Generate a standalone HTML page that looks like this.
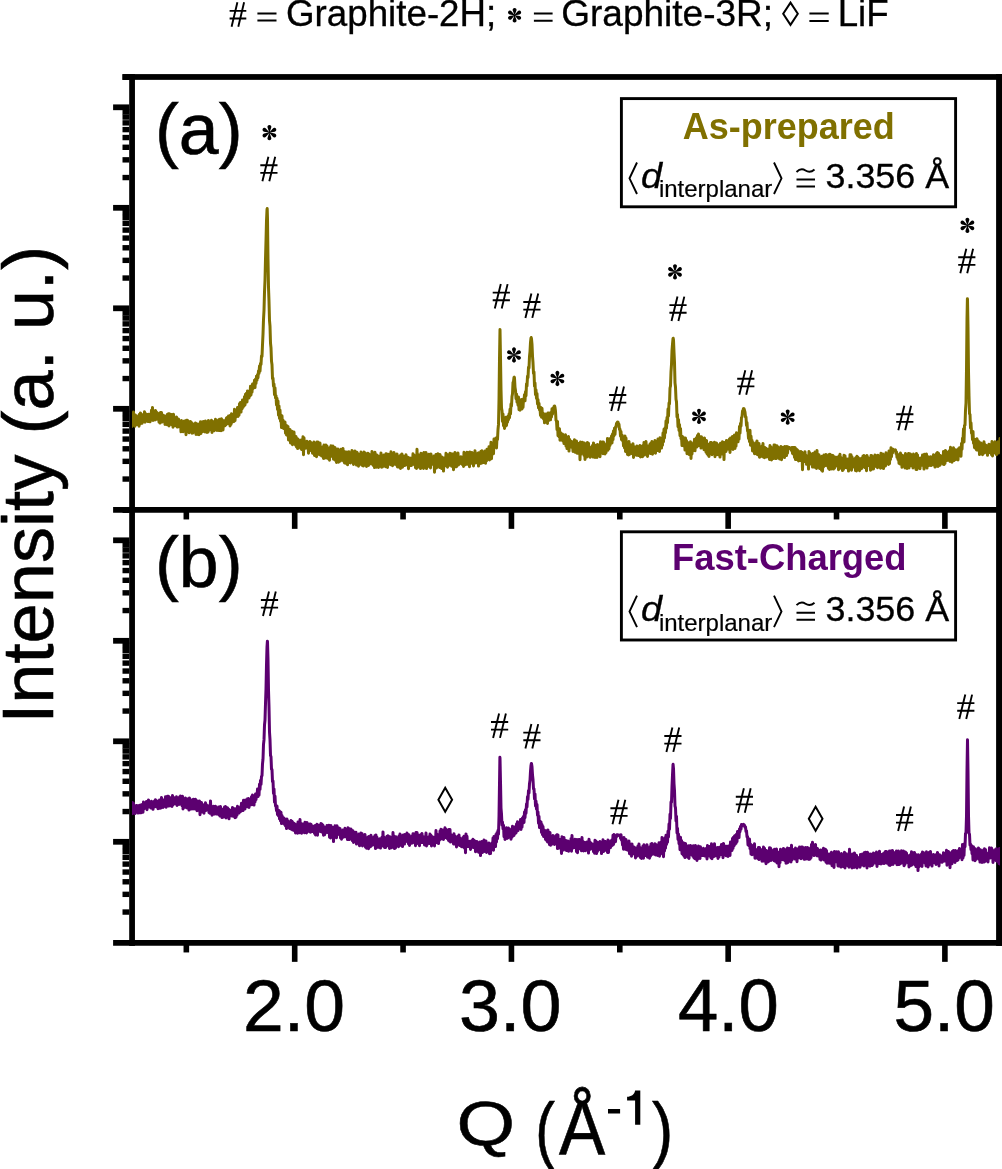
<!DOCTYPE html>
<html><head><meta charset="utf-8"><style>
html,body{margin:0;padding:0;background:#fff;overflow:hidden}
svg{display:block;will-change:transform}
</style></head><body>
<svg width="1002" height="1169" viewBox="0 0 1002 1169">
<rect width="1002" height="1169" fill="#fff"/>
<defs><clipPath id="cp"><rect x="132" y="79" width="868" height="862"/></clipPath></defs>
<rect x="122.50" y="74.10" width="879.50" height="5.75" fill="#000"/>
<rect x="129.20" y="74.10" width="5.75" height="871.80" fill="#000"/>
<rect x="113.10" y="507.00" width="888.90" height="5.75" fill="#000"/>
<rect x="113.10" y="940.00" width="888.90" height="5.75" fill="#000"/>
<rect x="996.10" y="74.10" width="6.00" height="871.80" fill="#000"/>
<rect x="113.10" y="104.42" width="16.20" height="5.75" fill="#000"/>
<rect x="113.10" y="204.93" width="16.20" height="5.75" fill="#000"/>
<rect x="113.10" y="305.43" width="16.20" height="5.75" fill="#000"/>
<rect x="113.10" y="405.93" width="16.20" height="5.75" fill="#000"/>
<rect x="122.50" y="157.15" width="6.80" height="5.40" fill="#000"/>
<rect x="122.50" y="144.59" width="6.80" height="5.40" fill="#000"/>
<rect x="122.50" y="134.85" width="6.80" height="5.40" fill="#000"/>
<rect x="122.50" y="126.90" width="6.80" height="5.40" fill="#000"/>
<rect x="122.50" y="120.17" width="6.80" height="5.40" fill="#000"/>
<rect x="122.50" y="114.34" width="6.80" height="5.40" fill="#000"/>
<rect x="122.50" y="109.20" width="6.80" height="5.40" fill="#000"/>
<rect x="122.50" y="174.85" width="6.80" height="5.40" fill="#000"/>
<rect x="122.50" y="257.65" width="6.80" height="5.40" fill="#000"/>
<rect x="122.50" y="245.09" width="6.80" height="5.40" fill="#000"/>
<rect x="122.50" y="235.35" width="6.80" height="5.40" fill="#000"/>
<rect x="122.50" y="227.40" width="6.80" height="5.40" fill="#000"/>
<rect x="122.50" y="220.67" width="6.80" height="5.40" fill="#000"/>
<rect x="122.50" y="214.84" width="6.80" height="5.40" fill="#000"/>
<rect x="122.50" y="209.70" width="6.80" height="5.40" fill="#000"/>
<rect x="122.50" y="275.35" width="6.80" height="5.40" fill="#000"/>
<rect x="122.50" y="358.15" width="6.80" height="5.40" fill="#000"/>
<rect x="122.50" y="345.59" width="6.80" height="5.40" fill="#000"/>
<rect x="122.50" y="335.85" width="6.80" height="5.40" fill="#000"/>
<rect x="122.50" y="327.90" width="6.80" height="5.40" fill="#000"/>
<rect x="122.50" y="321.17" width="6.80" height="5.40" fill="#000"/>
<rect x="122.50" y="315.34" width="6.80" height="5.40" fill="#000"/>
<rect x="122.50" y="310.20" width="6.80" height="5.40" fill="#000"/>
<rect x="122.50" y="375.85" width="6.80" height="5.40" fill="#000"/>
<rect x="122.50" y="458.65" width="6.80" height="5.40" fill="#000"/>
<rect x="122.50" y="446.09" width="6.80" height="5.40" fill="#000"/>
<rect x="122.50" y="436.35" width="6.80" height="5.40" fill="#000"/>
<rect x="122.50" y="428.40" width="6.80" height="5.40" fill="#000"/>
<rect x="122.50" y="421.67" width="6.80" height="5.40" fill="#000"/>
<rect x="122.50" y="415.84" width="6.80" height="5.40" fill="#000"/>
<rect x="122.50" y="410.70" width="6.80" height="5.40" fill="#000"/>
<rect x="122.50" y="476.35" width="6.80" height="5.40" fill="#000"/>
<rect x="122.50" y="74.20" width="6.80" height="5.75" fill="#000"/>
<rect x="113.10" y="537.42" width="16.20" height="5.75" fill="#000"/>
<rect x="113.10" y="637.92" width="16.20" height="5.75" fill="#000"/>
<rect x="113.10" y="738.42" width="16.20" height="5.75" fill="#000"/>
<rect x="113.10" y="838.92" width="16.20" height="5.75" fill="#000"/>
<rect x="122.50" y="590.15" width="6.80" height="5.40" fill="#000"/>
<rect x="122.50" y="577.59" width="6.80" height="5.40" fill="#000"/>
<rect x="122.50" y="567.85" width="6.80" height="5.40" fill="#000"/>
<rect x="122.50" y="559.90" width="6.80" height="5.40" fill="#000"/>
<rect x="122.50" y="553.17" width="6.80" height="5.40" fill="#000"/>
<rect x="122.50" y="547.34" width="6.80" height="5.40" fill="#000"/>
<rect x="122.50" y="542.20" width="6.80" height="5.40" fill="#000"/>
<rect x="122.50" y="607.85" width="6.80" height="5.40" fill="#000"/>
<rect x="122.50" y="690.65" width="6.80" height="5.40" fill="#000"/>
<rect x="122.50" y="678.09" width="6.80" height="5.40" fill="#000"/>
<rect x="122.50" y="668.35" width="6.80" height="5.40" fill="#000"/>
<rect x="122.50" y="660.40" width="6.80" height="5.40" fill="#000"/>
<rect x="122.50" y="653.67" width="6.80" height="5.40" fill="#000"/>
<rect x="122.50" y="647.84" width="6.80" height="5.40" fill="#000"/>
<rect x="122.50" y="642.70" width="6.80" height="5.40" fill="#000"/>
<rect x="122.50" y="708.35" width="6.80" height="5.40" fill="#000"/>
<rect x="122.50" y="791.15" width="6.80" height="5.40" fill="#000"/>
<rect x="122.50" y="778.59" width="6.80" height="5.40" fill="#000"/>
<rect x="122.50" y="768.85" width="6.80" height="5.40" fill="#000"/>
<rect x="122.50" y="760.90" width="6.80" height="5.40" fill="#000"/>
<rect x="122.50" y="754.17" width="6.80" height="5.40" fill="#000"/>
<rect x="122.50" y="748.34" width="6.80" height="5.40" fill="#000"/>
<rect x="122.50" y="743.20" width="6.80" height="5.40" fill="#000"/>
<rect x="122.50" y="808.85" width="6.80" height="5.40" fill="#000"/>
<rect x="122.50" y="891.65" width="6.80" height="5.40" fill="#000"/>
<rect x="122.50" y="879.09" width="6.80" height="5.40" fill="#000"/>
<rect x="122.50" y="869.35" width="6.80" height="5.40" fill="#000"/>
<rect x="122.50" y="861.40" width="6.80" height="5.40" fill="#000"/>
<rect x="122.50" y="854.67" width="6.80" height="5.40" fill="#000"/>
<rect x="122.50" y="848.84" width="6.80" height="5.40" fill="#000"/>
<rect x="122.50" y="843.70" width="6.80" height="5.40" fill="#000"/>
<rect x="122.50" y="909.35" width="6.80" height="5.40" fill="#000"/>
<rect x="122.50" y="507.20" width="6.80" height="5.75" fill="#000"/>
<rect x="291.90" y="511.85" width="5.60" height="17.00" fill="#000"/>
<rect x="508.63" y="511.85" width="5.60" height="17.00" fill="#000"/>
<rect x="725.36" y="511.85" width="5.60" height="17.00" fill="#000"/>
<rect x="942.09" y="511.85" width="5.60" height="17.00" fill="#000"/>
<rect x="183.53" y="511.85" width="5.60" height="7.60" fill="#000"/>
<rect x="400.26" y="511.85" width="5.60" height="7.60" fill="#000"/>
<rect x="617.00" y="511.85" width="5.60" height="7.60" fill="#000"/>
<rect x="833.72" y="511.85" width="5.60" height="7.60" fill="#000"/>
<rect x="291.90" y="944.85" width="5.60" height="17.00" fill="#000"/>
<rect x="508.63" y="944.85" width="5.60" height="17.00" fill="#000"/>
<rect x="725.36" y="944.85" width="5.60" height="17.00" fill="#000"/>
<rect x="942.09" y="944.85" width="5.60" height="17.00" fill="#000"/>
<rect x="183.53" y="944.85" width="5.60" height="7.60" fill="#000"/>
<rect x="400.26" y="944.85" width="5.60" height="7.60" fill="#000"/>
<rect x="617.00" y="944.85" width="5.60" height="7.60" fill="#000"/>
<rect x="833.72" y="944.85" width="5.60" height="7.60" fill="#000"/>
<g clip-path="url(#cp)" fill="none" stroke-width="3" stroke-linejoin="round" stroke-linecap="round">
<path stroke="#807000" d="M131.0 425.6 131.5 415.0 132.0 426.4 132.5 418.5 133.0 423.9 133.5 412.1 134.0 422.3 134.5 415.2 135.0 426.3 135.5 415.1 136.0 423.5 136.5 417.7 137.0 424.4 137.5 416.6 138.0 424.1 138.5 415.8 139.0 426.3 139.5 414.2 140.0 424.1 140.5 412.9 141.0 421.6 141.5 416.8 142.0 423.3 142.5 417.1 143.0 419.9 143.5 414.3 144.0 421.8 144.5 411.8 145.0 422.2 145.5 413.6 146.0 421.2 146.5 414.6 147.0 418.4 147.5 414.6 148.0 421.6 148.5 414.3 149.0 419.7 149.5 415.1 150.0 421.8 150.5 414.1 151.0 418.8 151.5 410.3 152.0 419.9 152.5 407.6 153.0 420.5 153.5 410.9 154.0 417.8 154.5 412.0 155.0 419.9 155.5 410.4 156.0 419.3 156.5 411.9 157.0 417.9 157.5 413.1 158.0 419.4 158.5 414.5 159.0 422.1 159.5 413.5 160.0 423.1 160.5 412.6 161.0 421.4 161.5 412.6 162.0 422.1 162.5 415.4 163.0 421.1 163.5 415.2 164.0 421.3 164.5 416.2 165.0 424.5 165.5 416.0 166.0 423.3 166.5 415.8 167.0 424.7 167.5 414.3 168.0 421.2 168.5 413.7 169.0 425.9 169.5 413.8 170.0 424.3 170.5 418.1 171.0 422.7 171.5 414.4 172.0 425.0 172.5 418.7 173.0 427.2 173.5 414.3 174.0 425.9 174.5 418.5 175.0 425.5 175.5 419.6 176.0 424.1 176.5 416.9 177.0 427.0 177.5 419.3 178.0 427.0 178.5 418.9 179.0 426.1 179.5 421.5 180.0 426.5 180.5 423.1 181.0 431.8 181.5 420.5 182.0 429.2 182.5 421.5 183.0 431.8 183.5 422.7 184.0 430.6 184.5 421.1 185.0 429.5 185.5 422.2 186.0 434.7 186.5 420.3 187.0 428.8 187.5 420.3 188.0 428.2 188.5 421.5 189.0 432.8 189.5 425.0 190.0 430.8 190.5 421.4 191.0 428.8 191.5 422.6 192.0 433.2 192.5 423.4 193.0 432.9 193.5 425.0 194.0 430.1 194.5 424.4 195.0 430.1 195.5 422.9 196.0 434.4 196.5 423.4 197.0 431.2 197.5 425.1 198.0 434.5 198.5 424.2 199.0 434.7 199.5 423.8 200.0 432.2 200.5 421.7 201.0 433.4 201.5 423.4 202.0 431.7 202.5 421.7 203.0 431.5 203.5 421.4 204.0 429.5 204.5 424.0 205.0 431.9 205.5 421.1 206.0 430.3 206.5 421.7 207.0 432.5 207.5 422.1 208.0 432.1 208.5 420.5 209.0 430.3 209.5 423.5 210.0 429.4 210.5 425.2 211.0 429.3 211.5 420.3 212.0 432.5 212.5 424.5 213.0 431.0 213.5 422.3 214.0 430.8 214.5 421.2 215.0 429.0 215.5 419.3 216.0 429.7 216.5 420.9 217.0 430.4 217.5 423.1 218.0 427.0 218.5 419.9 219.0 430.6 219.5 419.2 220.0 430.1 220.5 422.7 221.0 430.7 221.5 418.7 222.0 430.2 222.5 419.9 223.0 430.0 223.5 422.0 224.0 424.9 224.5 421.8 225.0 425.7 225.5 420.1 226.0 424.8 226.5 417.9 227.0 423.5 227.5 417.2 228.0 423.5 228.5 416.1 229.0 422.0 229.5 417.2 230.0 426.0 230.5 415.2 231.0 424.4 231.5 413.7 232.0 422.4 232.5 415.2 233.0 421.3 233.5 415.0 234.0 421.4 234.5 409.3 235.0 420.6 235.5 412.9 236.0 416.9 236.5 410.4 237.0 414.4 237.5 407.6 238.0 416.4 238.5 407.7 239.0 415.2 239.5 403.8 240.0 410.0 240.5 402.4 241.0 412.1 241.5 403.6 242.0 408.9 242.5 399.9 243.0 407.3 243.5 400.8 244.0 405.9 244.5 396.7 245.0 405.0 245.5 394.3 246.0 401.1 246.5 393.2 247.0 402.0 247.5 390.9 248.0 397.3 248.5 392.8 249.0 397.9 249.5 391.0 250.0 395.9 250.5 386.2 251.0 394.9 251.5 387.6 252.0 392.1 252.5 384.1 253.0 388.6 253.5 383.4 254.0 386.8 254.5 380.2 255.0 387.6 255.5 379.2 256.0 383.3 256.5 376.2 257.0 380.1 257.5 374.8 258.0 377.7 258.5 370.9 259.0 373.3 259.5 366.1 260.0 371.2 260.5 363.6 261.0 364.3 261.5 355.9 262.0 356.4 262.5 344.7 263.0 334.3 263.5 319.5 264.0 310.5 264.5 292.1 265.0 280.2 265.5 259.0 266.0 240.8 266.5 220.7 267.0 209.7 267.2 208.5 267.5 219.0 268.0 259.0 268.5 287.4 269.0 301.3 269.5 320.5 270.0 326.1 270.5 343.0 271.0 347.8 271.5 361.1 272.0 364.7 272.5 378.8 273.0 378.2 273.5 386.2 274.0 384.0 274.5 394.7 275.0 387.8 275.5 397.9 276.0 395.6 276.5 404.9 277.0 398.2 277.5 409.5 278.0 401.0 278.5 415.1 279.0 405.9 279.5 418.4 280.0 410.1 280.5 421.2 281.0 415.9 281.5 427.6 282.0 415.8 282.5 427.6 283.0 420.1 283.5 428.4 284.0 422.4 284.5 428.6 285.0 422.0 285.5 433.2 286.0 426.1 286.5 434.9 287.0 425.8 287.5 435.5 288.0 426.6 288.5 440.0 289.0 430.4 289.5 436.9 290.0 429.5 290.5 443.0 291.0 434.1 291.5 442.5 292.0 431.2 292.5 444.7 293.0 436.2 293.5 440.8 294.0 432.0 294.5 441.8 295.0 437.5 295.5 445.2 296.0 436.6 296.5 446.9 297.0 438.7 297.5 448.5 298.0 439.1 298.5 448.2 299.0 440.5 299.5 447.0 300.0 441.3 300.5 446.6 301.0 440.1 301.5 449.5 302.0 439.7 302.5 446.0 303.0 436.8 303.5 454.8 304.0 437.7 304.5 447.9 305.0 441.2 305.5 448.2 306.0 443.2 306.5 447.4 307.0 441.3 307.5 448.3 308.0 443.7 308.5 453.2 309.0 442.2 309.5 449.5 310.0 441.4 310.5 450.3 311.0 442.6 311.5 450.8 312.0 443.0 312.5 453.3 313.0 443.2 313.5 452.2 314.0 442.0 314.5 455.5 315.0 446.1 315.5 451.3 316.0 446.8 316.5 456.8 317.0 442.0 317.5 454.0 318.0 442.1 318.5 452.7 319.0 445.3 319.5 454.8 320.0 443.0 320.5 452.2 321.0 447.0 321.5 456.0 322.0 448.9 322.5 454.0 323.0 446.7 323.5 458.4 324.0 445.1 324.5 458.3 325.0 445.3 325.5 457.8 326.0 445.0 326.5 457.9 327.0 446.0 327.5 455.8 328.0 449.8 328.5 459.0 329.0 450.1 329.5 460.3 330.0 447.6 330.5 456.8 331.0 445.7 331.5 456.0 332.0 448.7 332.5 455.8 333.0 446.1 333.5 459.2 334.0 447.4 334.5 457.6 335.0 447.6 335.5 460.5 336.0 448.9 336.5 462.4 337.0 450.5 337.5 459.2 338.0 449.1 338.5 462.2 339.0 451.6 339.5 461.4 340.0 452.7 340.5 460.9 341.0 449.3 341.5 458.0 342.0 449.8 342.5 457.9 343.0 448.5 343.5 461.1 344.0 452.3 344.5 462.9 345.0 451.7 345.5 463.2 346.0 454.8 346.5 462.3 347.0 451.9 347.5 464.8 348.0 455.4 348.5 461.9 349.0 451.7 349.5 462.6 350.0 455.4 350.5 463.0 351.0 454.5 351.5 460.6 352.0 450.4 352.5 460.7 353.0 453.2 353.5 464.4 354.0 451.7 354.5 463.2 355.0 451.1 355.5 462.7 356.0 452.5 356.5 465.1 357.0 452.2 357.5 464.1 358.0 454.1 358.5 466.3 359.0 454.2 359.5 465.0 360.0 454.4 360.5 463.3 361.0 452.1 361.5 463.6 362.0 454.9 362.5 465.8 363.0 454.7 363.5 466.0 364.0 452.1 364.5 463.5 365.0 452.7 365.5 460.9 366.0 454.9 366.5 466.4 367.0 453.7 367.5 464.5 368.0 453.2 368.5 465.4 369.0 453.9 369.5 463.8 370.0 456.6 370.5 463.0 371.0 455.9 371.5 464.0 372.0 451.4 372.5 463.6 373.0 455.1 373.5 465.8 374.0 454.2 374.5 467.6 375.0 452.3 375.5 463.9 376.0 456.4 376.5 467.3 377.0 455.0 377.5 466.1 378.0 457.8 378.5 467.4 379.0 456.3 379.5 465.0 380.0 457.1 380.5 464.5 381.0 453.0 381.5 467.3 382.0 455.4 382.5 466.9 383.0 455.6 383.5 464.4 384.0 455.1 384.5 463.3 385.0 456.6 385.5 466.7 386.0 453.7 386.5 462.4 387.0 453.9 387.5 467.5 388.0 455.9 388.5 462.6 389.0 454.3 389.5 463.8 390.0 454.6 390.5 464.7 391.0 451.8 391.5 463.9 392.0 455.8 392.5 465.7 393.0 454.8 393.5 463.6 394.0 452.6 394.5 464.2 395.0 457.0 395.5 464.0 396.0 457.5 396.5 465.1 397.0 453.9 397.5 467.0 398.0 457.7 398.5 463.3 399.0 456.9 399.5 467.4 400.0 455.8 400.5 468.5 401.0 454.7 401.5 466.5 402.0 454.0 402.5 467.3 403.0 456.8 403.5 464.1 404.0 456.2 404.5 465.6 405.0 458.1 405.5 465.3 406.0 454.8 406.5 463.2 407.0 458.1 407.5 463.5 408.0 457.2 408.5 468.7 409.0 458.9 409.5 463.6 410.0 457.9 410.5 465.5 411.0 458.9 411.5 465.4 412.0 458.0 412.5 464.1 413.0 453.8 413.5 463.6 414.0 455.0 414.5 465.0 415.0 456.3 415.5 467.7 416.0 458.0 416.5 468.4 417.0 449.3 417.5 466.7 418.0 458.7 418.5 466.7 419.0 455.0 419.5 467.4 420.0 457.6 420.5 468.6 421.0 453.2 421.5 463.1 422.0 456.9 422.5 462.5 423.0 453.5 423.5 468.4 424.0 452.5 424.5 466.4 425.0 454.6 425.5 466.8 426.0 452.5 426.5 468.6 427.0 455.0 427.5 464.5 428.0 455.6 428.5 462.4 429.0 454.2 429.5 466.9 430.0 456.2 430.5 467.9 431.0 454.0 431.5 464.5 432.0 458.5 432.5 463.1 433.0 457.7 433.5 464.3 434.0 456.0 434.5 472.3 435.0 457.1 435.5 468.2 436.0 454.4 436.5 467.9 437.0 456.3 437.5 462.3 438.0 453.7 438.5 463.9 439.0 458.0 439.5 467.5 440.0 454.4 440.5 463.6 441.0 457.1 441.5 468.4 442.0 457.1 442.5 466.9 443.0 458.0 443.5 471.1 444.0 458.1 444.5 465.6 445.0 458.7 445.5 465.8 446.0 453.3 446.5 462.7 447.0 457.1 447.5 467.2 448.0 454.8 448.5 464.2 449.0 454.7 449.5 465.2 450.0 453.2 450.5 464.1 451.0 453.8 451.5 466.3 452.0 453.9 452.5 464.6 453.0 454.0 453.5 469.8 454.0 456.2 454.5 462.2 455.0 452.4 455.5 466.7 456.0 457.4 456.5 466.8 457.0 456.8 457.5 465.0 458.0 453.0 458.5 464.9 459.0 456.7 459.5 463.9 460.0 458.0 460.5 463.2 461.0 456.7 461.5 462.9 462.0 458.0 462.5 464.7 463.0 456.9 463.5 466.4 464.0 452.2 464.5 463.3 465.0 454.4 465.5 464.7 466.0 457.6 466.5 462.1 467.0 452.2 467.5 464.3 468.0 452.6 468.5 461.6 469.0 453.9 469.5 466.7 470.0 452.0 470.5 461.0 471.0 454.2 471.5 463.2 472.0 452.5 472.5 461.2 473.0 455.6 473.5 465.9 474.0 454.2 474.5 463.4 475.0 450.8 475.5 462.4 476.0 456.7 476.5 462.7 477.0 455.8 477.5 460.5 478.0 453.0 478.5 466.1 479.0 452.8 479.5 463.9 480.0 454.3 480.5 463.3 481.0 451.3 481.5 463.2 482.0 450.8 482.5 462.7 483.0 454.4 483.5 462.6 484.0 452.2 484.5 459.5 485.0 451.0 485.5 463.3 486.0 453.7 486.5 461.0 487.0 449.3 487.5 459.5 488.0 451.7 488.5 458.7 489.0 446.8 489.5 459.9 490.0 448.5 490.5 455.3 491.0 442.2 491.5 458.8 492.0 448.2 492.5 452.4 493.0 445.5 493.5 453.7 494.0 439.0 494.5 446.9 495.0 440.8 495.5 446.1 496.0 438.1 496.5 448.0 497.0 437.5 497.5 439.5 498.0 429.5 498.5 424.4 499.0 399.7 499.5 358.7 500.0 329.6 500.5 357.6 501.0 389.2 501.5 408.0 502.0 410.7 502.5 421.4 503.0 414.1 503.5 425.7 504.0 420.3 504.5 428.4 505.0 420.5 505.5 426.2 506.0 417.2 506.5 425.5 507.0 418.6 507.5 422.0 508.0 416.3 508.5 419.5 509.0 414.1 509.5 417.7 510.0 409.3 510.5 413.8 511.0 404.0 511.5 406.0 512.0 396.4 512.5 393.7 513.0 382.5 513.5 381.4 514.0 377.5 514.3 377.1 514.5 378.0 515.0 387.3 515.5 390.4 516.0 398.7 516.5 393.9 517.0 402.1 517.5 399.1 518.0 405.2 518.5 397.0 519.0 409.7 519.5 403.0 520.0 410.2 520.5 402.5 521.0 407.7 521.5 399.4 522.0 408.9 522.5 401.4 523.0 407.5 523.5 399.1 524.0 400.8 524.5 394.7 525.0 400.8 525.5 391.8 526.0 395.8 526.5 383.9 527.0 385.9 527.5 376.3 528.0 377.8 528.5 367.2 529.0 367.9 529.5 356.3 530.0 351.6 530.5 342.3 531.0 338.0 531.2 337.5 531.5 338.8 532.0 344.3 532.5 356.1 533.0 362.7 533.5 373.5 534.0 372.0 534.5 386.1 535.0 382.9 535.5 394.6 536.0 389.8 536.5 398.4 537.0 393.5 537.5 403.9 538.0 399.5 538.5 407.8 539.0 403.3 539.5 410.0 540.0 407.9 540.5 415.5 541.0 407.5 541.5 417.2 542.0 408.3 542.5 417.0 543.0 413.0 543.5 418.9 544.0 414.1 544.5 422.8 545.0 414.8 545.5 421.4 546.0 414.1 546.5 421.1 547.0 416.9 547.5 423.5 548.0 413.1 548.5 420.7 549.0 412.9 549.5 418.3 550.0 412.9 550.5 419.8 551.0 412.5 551.5 416.9 552.0 408.8 552.5 414.1 553.0 408.2 553.5 409.2 554.0 406.4 554.5 406.0 554.6 406.0 555.0 407.4 555.5 411.2 556.0 420.3 556.5 420.7 557.0 429.6 557.5 421.4 558.0 435.8 558.5 429.3 559.0 436.7 559.5 428.8 560.0 440.2 560.5 432.4 561.0 439.9 561.5 435.9 562.0 439.7 562.5 433.9 563.0 441.1 563.5 437.0 564.0 443.6 564.5 438.8 565.0 442.8 565.5 434.7 566.0 446.1 566.5 439.8 567.0 448.6 567.5 441.7 568.0 446.5 568.5 436.6 569.0 451.1 569.5 439.2 570.0 446.9 570.5 441.6 571.0 447.0 571.5 441.3 572.0 447.4 572.5 443.7 573.0 451.5 573.5 444.2 574.0 449.0 574.5 439.7 575.0 452.3 575.5 443.5 576.0 449.3 576.5 441.0 577.0 453.3 577.5 442.9 578.0 453.3 578.5 444.9 579.0 451.4 579.5 443.3 580.0 459.7 580.5 442.1 581.0 454.3 581.5 444.2 582.0 450.7 582.5 442.2 583.0 451.3 583.5 447.1 584.0 455.4 584.5 443.1 585.0 459.4 585.5 445.5 586.0 452.6 586.5 448.2 587.0 456.9 587.5 442.4 588.0 453.2 588.5 443.2 589.0 454.2 589.5 446.7 590.0 457.3 590.5 448.6 591.0 454.5 591.5 447.4 592.0 456.1 592.5 445.5 593.0 457.1 593.5 442.9 594.0 453.6 594.5 446.7 595.0 457.4 595.5 445.2 596.0 452.0 596.5 448.0 597.0 457.5 597.5 444.6 598.0 451.6 598.5 444.9 599.0 454.2 599.5 445.2 600.0 456.8 600.5 441.8 601.0 451.4 601.5 446.4 602.0 452.8 602.5 441.9 603.0 453.7 603.5 442.1 604.0 453.0 604.5 444.8 605.0 453.9 605.5 445.5 606.0 452.6 606.5 443.8 607.0 450.5 607.5 438.4 608.0 450.2 608.5 443.2 609.0 448.7 609.5 438.7 610.0 445.4 610.5 439.8 611.0 443.4 611.5 436.1 612.0 443.0 612.5 434.0 613.0 439.6 613.5 430.9 614.0 435.7 614.5 428.2 615.0 434.3 615.5 427.0 616.0 427.3 616.5 423.5 617.0 422.9 617.5 422.0 617.6 422.0 618.0 422.2 618.5 423.7 619.0 424.4 619.5 429.6 620.0 429.2 620.5 436.1 621.0 431.5 621.5 439.6 622.0 434.9 622.5 440.7 623.0 437.0 623.5 445.8 624.0 439.6 624.5 448.0 625.0 436.1 625.5 451.5 626.0 438.0 626.5 452.0 627.0 443.7 627.5 454.4 628.0 443.4 628.5 455.0 629.0 441.6 629.5 454.4 630.0 444.6 630.5 452.5 631.0 445.1 631.5 453.4 632.0 446.7 632.5 452.6 633.0 443.7 633.5 457.5 634.0 447.7 634.5 451.8 635.0 447.0 635.5 452.5 636.0 447.4 636.5 455.3 637.0 445.9 637.5 454.3 638.0 447.2 638.5 455.6 639.0 446.6 639.5 453.9 640.0 445.4 640.5 457.0 641.0 446.7 641.5 455.7 642.0 446.2 642.5 456.7 643.0 445.5 643.5 454.2 644.0 442.4 644.5 455.1 645.0 447.2 645.5 451.6 646.0 441.5 646.5 450.8 647.0 445.6 647.5 456.4 648.0 447.2 648.5 451.3 649.0 445.8 649.5 450.7 650.0 444.0 650.5 453.6 651.0 443.0 651.5 450.3 652.0 441.4 652.5 454.3 653.0 442.6 653.5 449.8 654.0 442.4 654.5 452.4 655.0 440.6 655.5 453.3 656.0 442.4 656.5 450.6 657.0 443.5 657.5 450.3 658.0 438.9 658.5 450.7 659.0 441.3 659.5 451.5 660.0 437.8 660.5 447.2 661.0 438.7 661.5 448.1 662.0 438.6 662.5 445.2 663.0 433.1 663.5 441.7 664.0 429.2 664.5 437.9 665.0 427.9 665.5 432.8 666.0 421.1 666.5 428.2 667.0 417.6 667.5 422.8 668.0 409.1 668.5 416.0 669.0 403.0 669.5 404.0 670.0 388.0 670.5 386.0 671.0 371.8 671.5 364.3 672.0 350.6 672.5 344.0 673.0 338.6 673.2 338.2 673.5 340.1 674.0 352.0 674.5 362.6 675.0 382.8 675.5 387.2 676.0 399.3 676.5 401.9 677.0 416.9 677.5 414.4 678.0 426.7 678.5 419.6 679.0 430.4 679.5 424.5 680.0 435.7 680.5 428.4 681.0 438.8 681.5 436.3 682.0 445.6 682.5 436.5 683.0 443.8 683.5 437.6 684.0 446.1 684.5 438.7 685.0 450.1 685.5 438.0 686.0 447.1 686.5 440.6 687.0 453.7 687.5 442.3 688.0 453.2 688.5 445.2 689.0 454.5 689.5 442.7 690.0 455.0 690.5 441.7 691.0 458.5 691.5 446.3 692.0 454.0 692.5 444.9 693.0 450.2 693.5 442.8 694.0 450.6 694.5 439.3 695.0 450.8 695.5 441.3 696.0 444.7 696.5 437.7 697.0 447.0 697.5 435.5 698.0 444.5 698.5 434.1 699.0 445.4 699.5 437.2 700.0 442.6 700.5 436.8 701.0 448.1 701.5 436.8 702.0 444.2 702.5 438.8 703.0 447.3 703.5 439.1 704.0 449.7 704.5 438.0 705.0 449.4 705.5 442.4 706.0 452.2 706.5 440.4 707.0 453.7 707.5 443.8 708.0 455.1 708.5 444.2 709.0 456.4 709.5 445.7 710.0 451.4 710.5 442.5 711.0 452.7 711.5 442.6 712.0 454.8 712.5 444.8 713.0 451.7 713.5 443.2 714.0 451.7 714.5 442.2 715.0 456.8 715.5 446.4 716.0 452.3 716.5 442.9 717.0 454.5 717.5 447.7 718.0 454.7 718.5 446.9 719.0 454.1 719.5 444.4 720.0 457.1 720.5 443.3 721.0 452.3 721.5 445.1 722.0 454.1 722.5 441.7 723.0 451.3 723.5 444.3 724.0 459.6 724.5 442.6 725.0 451.5 725.5 443.2 726.0 451.4 726.5 440.4 727.0 449.4 727.5 444.3 728.0 448.8 728.5 440.6 729.0 449.5 729.5 438.9 730.0 452.5 730.5 438.1 731.0 448.0 731.5 443.1 732.0 448.1 732.5 436.6 733.0 449.5 733.5 441.1 734.0 448.0 734.5 434.9 735.0 448.4 735.5 434.8 736.0 446.3 736.5 432.7 737.0 441.7 737.5 435.3 738.0 441.8 738.5 433.3 739.0 439.2 739.5 426.4 740.0 433.1 740.5 423.4 741.0 426.0 741.5 417.5 742.0 416.9 742.5 411.2 743.0 410.0 743.5 408.6 743.7 408.5 744.0 408.7 744.5 410.3 745.0 412.2 745.5 417.2 746.0 417.0 746.5 425.5 747.0 422.6 747.5 431.0 748.0 430.8 748.5 438.4 749.0 434.3 749.5 441.6 750.0 430.2 750.5 445.2 751.0 436.0 751.5 443.9 752.0 440.2 752.5 450.9 753.0 442.6 753.5 450.2 754.0 444.2 754.5 453.7 755.0 444.3 755.5 451.3 756.0 442.7 756.5 453.9 757.0 440.9 757.5 454.7 758.0 445.2 758.5 451.2 759.0 443.5 759.5 457.3 760.0 448.3 760.5 456.6 761.0 447.8 761.5 455.1 762.0 446.1 762.5 456.5 763.0 443.5 763.5 457.3 764.0 447.6 764.5 457.8 765.0 447.4 765.5 456.2 766.0 448.2 766.5 456.9 767.0 449.0 767.5 455.5 768.0 449.9 768.5 456.8 769.0 449.1 769.5 459.4 770.0 445.6 770.5 456.4 771.0 447.1 771.5 459.9 772.0 448.8 772.5 457.8 773.0 448.4 773.5 458.5 774.0 445.1 774.5 455.3 775.0 445.1 775.5 458.6 776.0 446.3 776.5 458.5 777.0 445.8 777.5 456.6 778.0 446.9 778.5 456.2 779.0 448.2 779.5 458.9 780.0 448.7 780.5 455.0 781.0 446.4 781.5 459.7 782.0 447.2 782.5 456.6 783.0 447.3 783.5 455.0 784.0 447.0 784.5 457.6 785.0 446.6 785.5 455.7 786.0 448.2 786.5 455.6 787.0 446.5 787.5 453.2 788.0 447.0 788.5 449.0 789.0 447.4 789.5 448.1 790.0 447.8 790.5 448.2 791.0 447.9 791.5 450.4 792.0 447.6 792.5 453.4 793.0 447.4 793.5 454.2 794.0 447.5 794.5 457.3 795.0 447.4 795.5 459.6 796.0 448.7 796.5 459.2 797.0 449.6 797.5 459.7 798.0 450.6 798.5 461.0 799.0 451.5 799.5 458.8 800.0 452.5 800.5 460.6 801.0 451.6 801.5 460.2 802.0 452.3 802.5 469.7 803.0 454.7 803.5 461.1 804.0 453.2 804.5 461.5 805.0 451.7 805.5 461.7 806.0 455.3 806.5 464.3 807.0 457.0 807.5 463.3 808.0 456.1 808.5 469.1 809.0 451.6 809.5 463.8 810.0 453.0 810.5 462.4 811.0 454.4 811.5 464.4 812.0 456.5 812.5 467.1 813.0 453.5 813.5 462.7 814.0 456.6 814.5 467.3 815.0 452.0 815.5 466.0 816.0 452.9 816.5 468.5 817.0 450.6 817.5 466.3 818.0 457.3 818.5 464.6 819.0 454.8 819.5 468.4 820.0 457.0 820.5 464.9 821.0 458.9 821.5 470.2 822.0 456.2 822.5 471.3 823.0 457.7 823.5 467.0 824.0 454.9 824.5 465.8 825.0 458.2 825.5 465.5 826.0 454.6 826.5 464.1 827.0 459.0 827.5 466.1 828.0 458.2 828.5 468.4 829.0 454.4 829.5 469.5 830.0 454.3 830.5 467.6 831.0 458.8 831.5 468.9 832.0 455.3 832.5 468.4 833.0 455.6 833.5 469.1 834.0 458.3 834.5 468.1 835.0 456.9 835.5 466.0 836.0 458.3 836.5 464.9 837.0 457.3 837.5 466.4 838.0 457.8 838.5 469.7 839.0 456.1 839.5 468.6 840.0 454.2 840.5 465.6 841.0 457.4 841.5 464.8 842.0 458.3 842.5 470.6 843.0 460.4 843.5 469.4 844.0 455.2 844.5 467.8 845.0 455.7 845.5 467.3 846.0 458.7 846.5 467.8 847.0 459.8 847.5 466.5 848.0 459.1 848.5 471.1 849.0 458.9 849.5 466.0 850.0 454.8 850.5 465.4 851.0 454.7 851.5 470.2 852.0 456.8 852.5 467.3 853.0 459.8 853.5 465.2 854.0 460.4 854.5 466.8 855.0 458.4 855.5 470.6 856.0 457.5 856.5 471.0 857.0 456.2 857.5 465.4 858.0 457.3 858.5 465.4 859.0 460.8 859.5 470.7 860.0 458.7 860.5 465.6 861.0 460.3 861.5 468.7 862.0 457.9 862.5 464.3 863.0 456.1 863.5 465.9 864.0 455.6 864.5 467.5 865.0 457.2 865.5 467.2 866.0 456.3 866.5 470.7 867.0 455.4 867.5 465.6 868.0 457.4 868.5 465.6 869.0 460.0 869.5 465.3 870.0 458.9 870.5 470.3 871.0 455.6 871.5 469.5 872.0 455.8 872.5 465.9 873.0 457.8 873.5 469.0 874.0 458.4 874.5 466.5 875.0 455.1 875.5 464.1 876.0 458.4 876.5 466.7 877.0 455.6 877.5 467.7 878.0 455.2 878.5 464.1 879.0 458.8 879.5 465.3 880.0 456.3 880.5 468.2 881.0 453.2 881.5 467.5 882.0 459.4 882.5 464.8 883.0 454.0 883.5 468.6 884.0 455.1 884.5 464.5 885.0 456.4 885.5 466.0 886.0 452.7 886.5 463.6 887.0 456.4 887.5 460.4 888.0 455.6 888.5 464.5 889.0 451.0 889.5 463.6 890.0 452.0 890.5 459.4 891.0 447.7 891.5 456.7 892.0 450.6 892.5 453.0 893.0 449.2 893.5 451.0 894.0 449.9 894.4 450.0 894.5 450.0 895.0 450.6 895.5 449.9 896.0 453.6 896.5 452.0 897.0 457.4 897.5 454.1 898.0 459.5 898.5 455.4 899.0 463.3 899.5 456.0 900.0 464.0 900.5 453.1 901.0 461.9 901.5 457.9 902.0 467.3 902.5 455.2 903.0 465.0 903.5 457.0 904.0 465.8 904.5 457.5 905.0 468.0 905.5 453.6 906.0 464.5 906.5 459.0 907.0 468.4 907.5 457.2 908.0 466.9 908.5 453.6 909.0 467.9 909.5 453.7 910.0 466.0 910.5 453.9 911.0 465.8 911.5 457.8 912.0 466.0 912.5 457.3 913.0 468.0 913.5 454.1 914.0 463.9 914.5 458.6 915.0 465.5 915.5 456.6 916.0 469.4 916.5 453.5 917.0 469.5 917.5 454.9 918.0 467.6 918.5 458.0 919.0 465.6 919.5 459.8 920.0 468.7 920.5 458.0 921.0 463.7 921.5 457.7 922.0 465.3 922.5 455.0 923.0 463.2 923.5 458.3 924.0 469.1 924.5 454.2 925.0 467.3 925.5 456.1 926.0 464.6 926.5 454.0 927.0 468.1 927.5 456.3 928.0 465.4 928.5 458.2 929.0 465.4 929.5 457.3 930.0 463.2 930.5 456.7 931.0 465.6 931.5 457.3 932.0 465.0 932.5 456.8 933.0 464.7 933.5 454.8 934.0 465.3 934.5 457.3 935.0 467.1 935.5 455.1 936.0 464.6 936.5 453.5 937.0 466.3 937.5 452.4 938.0 466.5 938.5 453.3 939.0 465.6 939.5 456.4 940.0 465.2 940.5 455.5 941.0 462.0 941.5 456.2 942.0 462.7 942.5 456.6 943.0 464.1 943.5 451.5 944.0 464.6 944.5 455.3 945.0 463.4 945.5 450.4 946.0 460.2 946.5 452.9 947.0 460.5 947.5 452.4 948.0 459.6 948.5 451.7 949.0 460.5 949.5 450.7 950.0 461.5 950.5 447.3 951.0 459.4 951.5 449.9 952.0 462.3 952.5 449.6 953.0 457.7 953.5 447.8 954.0 460.6 954.5 451.8 955.0 459.3 955.5 449.8 956.0 459.4 956.5 451.1 957.0 458.9 957.5 449.8 958.0 459.9 958.5 448.7 959.0 454.5 959.5 447.8 960.0 454.3 960.5 448.6 961.0 456.3 961.5 443.4 962.0 449.2 962.5 438.2 963.0 440.6 963.5 429.0 964.0 442.0 964.5 425.4 965.0 425.2 965.5 410.3 966.0 403.0 966.5 369.3 967.0 319.2 967.4 298.7 967.5 299.7 968.0 326.9 968.5 371.2 969.0 395.9 969.5 413.8 970.0 414.4 970.5 427.9 971.0 422.8 971.5 433.3 972.0 431.3 972.5 439.6 973.0 431.4 973.5 443.3 974.0 440.4 974.5 447.6 975.0 439.4 975.5 448.3 976.0 440.0 976.5 449.9 977.0 438.7 977.5 450.1 978.0 440.7 978.5 450.5 979.0 441.8 979.5 454.6 980.0 444.9 980.5 450.2 981.0 443.0 981.5 452.9 982.0 443.8 982.5 454.7 983.0 444.1 983.5 453.1 984.0 441.7 984.5 453.0 985.0 444.6 985.5 451.3 986.0 445.4 986.5 452.0 987.0 445.8 987.5 455.3 988.0 446.7 988.5 451.7 989.0 444.2 989.5 452.5 990.0 446.0 990.5 452.9 991.0 444.4 991.5 454.8 992.0 441.5 992.5 455.9 993.0 444.9 993.5 453.4 994.0 445.0 994.5 452.1 995.0 441.7 995.5 451.1 996.0 446.3 996.5 454.7 997.0 443.9 997.5 452.3 998.0 441.7 998.5 453.1 999.0 443.8 999.5 451.1 1000.0 438.4 1000.5 451.2 1001.0 445.0"/>
<path stroke="#5c0070" d="M131.0 811.1 131.5 802.5 132.0 813.7 132.5 802.5 133.0 811.1 133.5 803.3 134.0 813.1 134.5 805.8 135.0 813.6 135.5 806.2 136.0 812.1 136.5 805.4 137.0 809.9 137.5 805.8 138.0 813.1 138.5 805.7 139.0 812.8 139.5 805.3 140.0 809.9 140.5 805.0 141.0 812.8 141.5 805.3 142.0 812.0 142.5 804.2 143.0 812.3 143.5 801.9 144.0 808.8 144.5 802.8 145.0 808.1 145.5 803.0 146.0 807.3 146.5 801.5 147.0 809.7 147.5 803.2 148.0 806.8 148.5 799.9 149.0 807.1 149.5 802.6 150.0 806.4 150.5 802.1 151.0 808.0 151.5 801.2 152.0 807.4 152.5 802.3 153.0 809.3 153.5 802.0 154.0 807.1 154.5 800.9 155.0 806.7 155.5 799.7 156.0 805.6 156.5 801.3 157.0 807.0 157.5 801.5 158.0 808.7 158.5 800.8 159.0 806.6 159.5 800.1 160.0 808.3 160.5 801.1 161.0 808.0 161.5 797.5 162.0 805.3 162.5 800.9 163.0 807.5 163.5 800.0 164.0 804.7 164.5 800.9 165.0 806.2 165.5 796.8 166.0 807.3 166.5 798.2 167.0 805.1 167.5 796.3 168.0 805.9 168.5 796.2 169.0 805.9 169.5 797.2 170.0 805.8 170.5 799.7 171.0 803.6 171.5 799.8 172.0 806.5 172.5 795.5 173.0 804.9 173.5 799.2 174.0 802.7 174.5 797.8 175.0 803.8 175.5 798.9 176.0 802.4 176.5 796.8 177.0 805.5 177.5 799.4 178.0 803.3 178.5 798.3 179.0 804.4 179.5 797.0 180.0 803.9 180.5 795.9 181.0 803.9 181.5 798.6 182.0 805.7 182.5 796.3 183.0 809.0 183.5 799.5 184.0 803.5 184.5 798.4 185.0 807.3 185.5 797.9 186.0 806.0 186.5 799.5 187.0 807.9 187.5 800.4 188.0 806.2 188.5 798.5 189.0 810.1 189.5 798.1 190.0 806.1 190.5 800.9 191.0 809.1 191.5 799.9 192.0 806.2 192.5 802.2 193.0 809.0 193.5 799.2 194.0 808.3 194.5 801.7 195.0 809.0 195.5 799.3 196.0 809.0 196.5 800.5 197.0 810.7 197.5 800.9 198.0 809.2 198.5 803.9 199.0 810.5 199.5 801.1 200.0 814.8 200.5 804.6 201.0 808.3 201.5 802.6 202.0 811.9 202.5 805.4 203.0 811.1 203.5 804.8 204.0 813.2 204.5 804.6 205.0 809.1 205.5 802.8 206.0 810.4 206.5 804.8 207.0 809.9 207.5 805.5 208.0 810.2 208.5 806.1 209.0 812.6 209.5 806.2 210.0 813.3 210.5 800.9 211.0 813.1 211.5 808.0 212.0 815.2 212.5 807.5 213.0 812.6 213.5 806.2 214.0 814.2 214.5 807.3 215.0 813.6 215.5 806.2 216.0 813.9 216.5 808.1 217.0 814.0 217.5 807.9 218.0 813.7 218.5 807.1 219.0 814.9 219.5 808.2 220.0 816.1 220.5 806.5 221.0 816.0 221.5 809.0 222.0 817.6 222.5 810.3 223.0 817.2 223.5 808.9 224.0 815.4 224.5 807.1 225.0 816.8 225.5 806.6 226.0 818.0 226.5 810.8 227.0 816.3 227.5 807.7 228.0 814.3 228.5 808.9 229.0 818.8 229.5 810.4 230.0 814.6 230.5 810.2 231.0 815.7 231.5 810.2 232.0 816.0 232.5 807.4 233.0 816.2 233.5 808.3 234.0 814.0 234.5 810.5 235.0 817.7 235.5 808.8 236.0 817.2 236.5 808.4 237.0 815.2 237.5 806.3 238.0 812.0 238.5 808.6 239.0 813.1 239.5 807.7 240.0 811.8 240.5 806.8 241.0 811.2 241.5 803.2 242.0 810.5 242.5 804.8 243.0 810.6 243.5 800.3 244.0 807.9 244.5 800.3 245.0 809.0 245.5 800.0 246.0 806.4 246.5 803.4 247.0 806.1 247.5 798.8 248.0 806.9 248.5 798.5 249.0 807.5 249.5 801.3 250.0 805.2 250.5 799.4 251.0 804.8 251.5 796.7 252.0 802.3 252.5 795.0 253.0 804.7 253.5 796.5 254.0 805.1 254.5 795.8 255.0 801.8 255.5 794.0 256.0 799.5 256.5 793.6 257.0 796.8 257.5 789.1 258.0 796.6 258.5 789.1 259.0 795.1 259.5 784.3 260.0 789.3 260.5 780.4 261.0 784.4 261.5 776.4 262.0 775.7 262.5 763.9 263.0 759.2 263.5 744.3 264.0 739.9 264.5 725.0 265.0 720.1 265.5 703.5 266.0 689.1 266.5 664.8 267.0 647.1 267.4 641.2 267.5 641.8 268.0 659.2 268.5 690.1 269.0 706.8 269.5 732.0 270.0 739.6 270.5 755.4 271.0 756.7 271.5 769.2 272.0 769.5 272.5 781.7 273.0 780.9 273.5 793.5 274.0 788.9 274.5 802.1 275.0 796.0 275.5 806.0 276.0 805.6 276.5 810.7 277.0 806.1 277.5 814.6 278.0 810.9 278.5 815.8 279.0 810.6 279.5 818.8 280.0 811.4 280.5 820.8 281.0 812.3 281.5 823.6 282.0 815.4 282.5 822.8 283.0 817.8 283.5 823.3 284.0 817.9 284.5 824.5 285.0 819.6 285.5 825.9 286.0 820.7 286.5 828.6 287.0 819.1 287.5 825.3 288.0 820.9 288.5 826.8 289.0 822.4 289.5 828.5 290.0 822.8 290.5 827.4 291.0 820.6 291.5 829.3 292.0 821.2 292.5 830.0 293.0 822.5 293.5 829.6 294.0 823.2 294.5 830.8 295.0 824.0 295.5 832.9 296.0 824.8 296.5 830.0 297.0 824.5 297.5 833.2 298.0 822.0 298.5 832.2 299.0 824.7 299.5 832.8 300.0 819.5 300.5 830.8 301.0 823.3 301.5 833.3 302.0 824.9 302.5 830.5 303.0 823.9 303.5 830.9 304.0 825.2 304.5 832.8 305.0 822.2 305.5 830.7 306.0 826.9 306.5 832.9 307.0 822.4 307.5 830.3 308.0 824.1 308.5 830.3 309.0 824.6 309.5 831.8 310.0 824.1 310.5 832.2 311.0 824.2 311.5 831.7 312.0 827.3 312.5 831.4 313.0 826.3 313.5 831.3 314.0 826.8 314.5 833.4 315.0 825.6 315.5 835.0 316.0 825.3 316.5 833.6 317.0 824.3 317.5 835.3 318.0 825.0 318.5 831.1 319.0 825.8 319.5 831.2 320.0 825.1 320.5 831.4 321.0 823.5 321.5 832.0 322.0 824.0 322.5 831.8 323.0 825.2 323.5 835.2 324.0 827.4 324.5 834.8 325.0 827.2 325.5 833.1 326.0 827.7 326.5 832.0 327.0 825.6 327.5 832.4 328.0 828.3 328.5 832.6 329.0 825.2 329.5 837.3 330.0 827.2 330.5 837.9 331.0 825.5 331.5 836.0 332.0 827.3 332.5 834.5 333.0 827.4 333.5 841.6 334.0 827.3 334.5 835.7 335.0 825.7 335.5 833.6 336.0 830.4 336.5 837.8 337.0 825.8 337.5 834.0 338.0 830.9 338.5 833.9 339.0 828.1 339.5 834.8 340.0 828.4 340.5 837.9 341.0 831.6 341.5 839.2 342.0 830.5 342.5 837.7 343.0 830.1 343.5 836.8 344.0 830.1 344.5 835.1 345.0 828.3 345.5 836.8 346.0 830.7 346.5 836.4 347.0 831.1 347.5 839.6 348.0 827.8 348.5 837.1 349.0 828.6 349.5 839.6 350.0 833.1 350.5 836.6 351.0 829.0 351.5 838.1 352.0 833.6 352.5 840.8 353.0 830.7 353.5 842.5 354.0 832.2 354.5 839.7 355.0 833.6 355.5 839.5 356.0 832.3 356.5 844.1 357.0 835.8 357.5 841.5 358.0 834.8 358.5 840.2 359.0 833.9 359.5 845.8 360.0 836.1 360.5 844.8 361.0 833.1 361.5 842.7 362.0 833.4 362.5 845.9 363.0 835.3 363.5 843.1 364.0 837.8 364.5 843.0 365.0 834.6 365.5 847.3 366.0 839.5 366.5 848.2 367.0 839.0 367.5 847.6 368.0 837.1 368.5 848.8 369.0 836.4 369.5 844.0 370.0 838.4 370.5 846.7 371.0 835.3 371.5 845.6 372.0 839.5 372.5 845.1 373.0 839.1 373.5 844.3 374.0 836.9 374.5 844.9 375.0 835.5 375.5 848.6 376.0 835.1 376.5 844.3 377.0 837.3 377.5 847.3 378.0 839.7 378.5 846.5 379.0 839.4 379.5 847.3 380.0 838.7 380.5 848.1 381.0 839.2 381.5 846.5 382.0 837.2 382.5 845.3 383.0 831.9 383.5 845.3 384.0 838.7 384.5 847.4 385.0 837.8 385.5 847.6 386.0 839.7 386.5 844.3 387.0 836.3 387.5 845.7 388.0 835.7 388.5 844.8 389.0 839.2 389.5 848.4 390.0 836.7 390.5 844.1 391.0 839.3 391.5 847.8 392.0 839.0 392.5 846.5 393.0 832.5 393.5 846.7 394.0 836.0 394.5 848.6 395.0 838.4 395.5 847.9 396.0 836.8 396.5 843.8 397.0 839.0 397.5 844.3 398.0 838.7 398.5 846.7 399.0 836.1 399.5 842.3 400.0 834.1 400.5 845.2 401.0 836.3 401.5 842.4 402.0 836.0 402.5 846.6 403.0 835.1 403.5 843.8 404.0 834.8 404.5 844.1 405.0 834.5 405.5 841.9 406.0 835.9 406.5 840.7 407.0 833.1 407.5 840.6 408.0 836.2 408.5 843.8 409.0 834.8 409.5 845.5 410.0 836.4 410.5 841.1 411.0 836.7 411.5 843.2 412.0 836.0 412.5 843.0 413.0 833.8 413.5 842.3 414.0 834.0 414.5 840.7 415.0 834.7 415.5 845.8 416.0 832.6 416.5 844.0 417.0 832.4 417.5 842.2 418.0 836.4 418.5 843.5 419.0 835.3 419.5 845.7 420.0 835.8 420.5 841.4 421.0 834.4 421.5 842.5 422.0 833.5 422.5 842.6 423.0 836.9 423.5 842.2 424.0 837.0 424.5 845.0 425.0 837.2 425.5 841.9 426.0 833.1 426.5 845.9 427.0 838.3 427.5 844.2 428.0 838.6 428.5 841.9 429.0 836.8 429.5 843.4 430.0 834.0 430.5 841.9 431.0 835.3 431.5 845.9 432.0 836.4 432.5 844.3 433.0 837.1 433.5 842.6 434.0 837.9 434.5 846.0 435.0 837.7 435.5 841.2 436.0 830.6 436.5 842.6 437.0 834.1 437.5 841.3 438.0 835.7 438.5 843.6 439.0 835.4 439.5 840.1 440.0 831.1 440.5 839.3 441.0 829.2 441.5 837.7 442.0 830.7 442.5 838.9 443.0 830.1 443.5 839.5 444.0 832.1 444.5 837.9 445.0 827.8 445.5 835.2 446.0 829.3 446.5 837.7 447.0 830.6 447.5 838.8 448.0 830.1 448.5 840.5 449.0 829.4 449.5 841.2 450.0 829.6 450.5 842.1 451.0 834.5 451.5 839.9 452.0 836.2 452.5 841.2 453.0 836.4 453.5 844.0 454.0 833.7 454.5 844.1 455.0 836.0 455.5 843.8 456.0 837.1 456.5 846.9 457.0 838.9 457.5 843.9 458.0 836.2 458.5 843.5 459.0 834.9 459.5 845.5 460.0 838.0 460.5 843.4 461.0 838.7 461.5 846.7 462.0 839.0 462.5 843.9 463.0 837.5 463.5 847.2 464.0 836.3 464.5 848.1 465.0 837.2 465.5 852.8 466.0 833.9 466.5 846.6 467.0 836.3 467.5 846.4 468.0 841.0 468.5 846.4 469.0 841.7 469.5 846.8 470.0 841.3 470.5 849.5 471.0 841.4 471.5 846.1 472.0 840.6 472.5 847.3 473.0 839.3 473.5 847.6 474.0 840.2 474.5 847.5 475.0 840.9 475.5 851.8 476.0 842.1 476.5 850.0 477.0 841.5 477.5 847.5 478.0 844.1 478.5 852.2 479.0 842.4 479.5 851.4 480.0 842.1 480.5 855.6 481.0 843.5 481.5 850.5 482.0 841.5 482.5 852.4 483.0 844.7 483.5 850.0 484.0 840.0 484.5 851.4 485.0 844.2 485.5 851.2 486.0 841.0 486.5 852.4 487.0 843.8 487.5 850.7 488.0 843.5 488.5 850.4 489.0 843.1 489.5 853.7 490.0 845.1 490.5 853.6 491.0 844.6 491.5 847.9 492.0 842.9 492.5 848.2 493.0 838.1 493.5 850.3 494.0 836.5 494.5 846.5 495.0 840.7 495.5 846.6 496.0 834.4 496.5 842.0 497.0 832.8 497.5 838.7 498.0 830.4 498.5 834.1 499.0 816.3 499.5 783.6 499.9 757.3 500.0 758.3 500.5 781.5 501.0 808.0 501.5 814.2 502.0 825.1 502.5 822.0 503.0 828.8 503.5 825.3 504.0 836.8 504.5 830.3 505.0 839.5 505.5 829.7 506.0 836.8 506.5 827.8 507.0 838.5 507.5 830.7 508.0 837.8 508.5 828.1 509.0 836.2 509.5 831.4 510.0 836.6 510.5 831.8 511.0 839.2 511.5 828.9 512.0 837.3 512.5 826.2 513.0 836.0 513.5 828.8 514.0 835.5 514.5 826.9 515.0 833.5 515.5 827.6 516.0 833.0 516.5 824.1 517.0 831.1 517.5 821.8 518.0 830.5 518.5 824.6 519.0 828.6 519.5 822.6 520.0 828.5 520.5 819.6 521.0 829.5 521.5 820.2 522.0 827.2 522.5 817.9 523.0 822.9 523.5 816.4 524.0 822.4 524.5 812.0 525.0 817.7 525.5 809.7 526.0 813.2 526.5 804.1 527.0 806.9 527.5 796.8 528.0 799.4 528.5 790.7 529.0 792.8 529.5 783.6 530.0 780.3 530.5 771.4 531.0 765.5 531.4 763.4 531.5 763.5 532.0 766.8 532.5 775.0 533.0 779.7 533.5 789.0 534.0 788.9 534.5 798.9 535.0 793.9 535.5 805.9 536.0 801.1 536.5 809.1 537.0 804.6 537.5 815.2 538.0 811.9 538.5 823.2 539.0 816.3 539.5 827.6 540.0 820.9 540.5 826.5 541.0 821.9 541.5 832.5 542.0 824.5 542.5 834.8 543.0 826.5 543.5 836.5 544.0 829.7 544.5 835.4 545.0 831.2 545.5 839.4 546.0 830.7 546.5 840.3 547.0 833.2 547.5 841.9 548.0 830.1 548.5 839.3 549.0 834.7 549.5 844.6 550.0 832.5 550.5 845.3 551.0 836.6 551.5 844.1 552.0 837.9 552.5 843.9 553.0 835.5 553.5 843.3 554.0 836.9 554.5 844.4 555.0 839.2 555.5 843.1 556.0 835.6 556.5 843.1 557.0 834.8 557.5 848.6 558.0 835.1 558.5 848.3 559.0 841.1 559.5 844.8 560.0 839.6 560.5 845.5 561.0 841.3 561.5 853.4 562.0 836.7 562.5 849.4 563.0 840.7 563.5 850.1 564.0 837.6 564.5 847.3 565.0 841.9 565.5 846.4 566.0 840.4 566.5 850.6 567.0 842.5 567.5 850.4 568.0 841.0 568.5 851.3 569.0 842.4 569.5 850.0 570.0 841.5 570.5 850.1 571.0 838.7 571.5 851.3 572.0 835.5 572.5 848.3 573.0 842.1 573.5 847.4 574.0 842.3 574.5 847.5 575.0 839.3 575.5 847.1 576.0 842.9 576.5 851.6 577.0 839.6 577.5 852.7 578.0 841.9 578.5 847.3 579.0 839.5 579.5 848.8 580.0 839.7 580.5 847.3 581.0 844.1 581.5 850.8 582.0 837.6 582.5 850.6 583.0 841.3 583.5 850.9 584.0 843.7 584.5 847.8 585.0 842.5 585.5 850.7 586.0 843.1 586.5 848.6 587.0 842.0 587.5 850.0 588.0 843.1 588.5 853.1 589.0 839.2 589.5 848.0 590.0 842.0 590.5 849.2 591.0 842.9 591.5 848.0 592.0 844.4 592.5 848.1 593.0 844.2 593.5 851.7 594.0 844.5 594.5 853.2 595.0 840.3 595.5 849.6 596.0 841.0 596.5 853.6 597.0 844.4 597.5 851.4 598.0 842.4 598.5 849.9 599.0 843.5 599.5 848.6 600.0 841.4 600.5 849.3 601.0 842.7 601.5 853.6 602.0 843.2 602.5 850.0 603.0 839.7 603.5 851.6 604.0 841.9 604.5 849.4 605.0 841.4 605.5 850.2 606.0 841.7 606.5 850.0 607.0 844.1 607.5 852.4 608.0 840.1 608.5 852.5 609.0 841.9 609.5 848.0 610.0 842.4 610.5 847.6 611.0 840.7 611.5 846.0 612.0 839.9 612.5 845.3 613.0 835.3 613.5 844.4 614.0 834.4 614.5 840.4 615.0 835.5 615.5 841.7 616.0 835.9 616.5 836.8 617.0 834.7 617.5 835.6 618.0 834.9 618.5 834.9 619.0 834.9 619.5 835.7 620.0 835.1 620.5 838.3 621.0 834.7 621.5 840.0 622.0 837.9 622.5 844.9 623.0 840.7 623.5 849.2 624.0 837.4 624.5 848.5 625.0 839.9 625.5 849.3 626.0 839.6 626.5 849.7 627.0 845.7 627.5 849.4 628.0 843.6 628.5 850.6 629.0 841.0 629.5 853.8 630.0 843.9 630.5 854.3 631.0 845.3 631.5 856.3 632.0 843.9 632.5 853.9 633.0 846.9 633.5 852.6 634.0 847.0 634.5 854.2 635.0 848.7 635.5 857.9 636.0 847.9 636.5 855.9 637.0 849.3 637.5 856.1 638.0 845.9 638.5 853.4 639.0 844.1 639.5 854.0 640.0 848.5 640.5 857.6 641.0 848.0 641.5 858.4 642.0 848.6 642.5 855.0 643.0 845.9 643.5 858.3 644.0 844.7 644.5 854.8 645.0 846.8 645.5 855.5 646.0 845.9 646.5 854.3 647.0 844.8 647.5 857.2 648.0 848.7 648.5 854.7 649.0 847.7 649.5 858.3 650.0 846.8 650.5 856.3 651.0 843.9 651.5 854.8 652.0 843.6 652.5 854.0 653.0 849.1 653.5 852.7 654.0 844.8 654.5 854.2 655.0 843.8 655.5 854.9 656.0 844.5 656.5 853.6 657.0 844.9 657.5 855.4 658.0 845.9 658.5 853.9 659.0 842.8 659.5 856.3 660.0 843.7 660.5 850.8 661.0 842.3 661.5 852.8 662.0 837.5 662.5 854.1 663.0 843.9 663.5 856.7 664.0 841.5 664.5 851.0 665.0 837.8 665.5 848.1 666.0 835.2 666.5 844.5 667.0 835.8 667.5 842.3 668.0 831.2 668.5 836.9 669.0 824.0 669.5 829.2 670.0 814.2 670.5 818.5 671.0 802.1 671.5 802.3 672.0 786.2 672.5 775.1 673.0 764.7 673.1 764.3 673.5 768.6 674.0 783.5 674.5 790.8 675.0 806.0 675.5 807.8 676.0 821.0 676.5 816.2 677.0 832.9 677.5 828.3 678.0 839.5 678.5 834.0 679.0 843.7 679.5 837.4 680.0 849.7 680.5 837.3 681.0 848.2 681.5 840.4 682.0 853.8 682.5 843.9 683.0 854.8 683.5 842.7 684.0 856.3 684.5 848.1 685.0 857.6 685.5 843.4 686.0 854.1 686.5 846.0 687.0 853.6 687.5 846.5 688.0 857.5 688.5 845.7 689.0 858.5 689.5 848.6 690.0 854.2 690.5 845.5 691.0 853.7 691.5 849.2 692.0 855.1 692.5 846.0 693.0 856.4 693.5 845.7 694.0 857.9 694.5 845.7 695.0 858.7 695.5 845.5 696.0 855.6 696.5 848.8 697.0 860.5 697.5 847.4 698.0 858.7 698.5 846.0 699.0 855.9 699.5 850.2 700.0 858.5 700.5 846.8 701.0 855.7 701.5 850.6 702.0 854.1 702.5 849.4 703.0 855.6 703.5 848.3 704.0 854.3 704.5 849.9 705.0 856.1 705.5 850.3 706.0 855.1 706.5 848.2 707.0 859.0 707.5 845.5 708.0 856.2 708.5 849.9 709.0 855.3 709.5 846.5 710.0 856.1 710.5 847.1 711.0 858.0 711.5 843.7 712.0 858.7 712.5 849.9 713.0 855.2 713.5 850.1 714.0 856.4 714.5 843.8 715.0 854.7 715.5 849.7 716.0 855.8 716.5 848.9 717.0 854.0 717.5 847.4 718.0 858.4 718.5 847.4 719.0 856.8 719.5 847.2 720.0 854.8 720.5 848.4 721.0 853.3 721.5 844.4 722.0 854.6 722.5 847.2 723.0 857.7 723.5 843.4 724.0 853.1 724.5 845.8 725.0 854.7 725.5 847.2 726.0 855.7 726.5 846.3 727.0 855.7 727.5 847.1 728.0 856.5 728.5 846.0 729.0 852.3 729.5 846.7 730.0 855.4 730.5 841.9 731.0 849.7 731.5 842.7 732.0 850.4 732.5 838.4 733.0 848.5 733.5 837.2 734.0 845.9 734.5 836.1 735.0 844.3 735.5 835.3 736.0 843.3 736.5 834.3 737.0 841.6 737.5 831.6 738.0 836.5 738.5 832.1 739.0 837.6 739.5 828.9 740.0 831.7 740.5 826.4 741.0 829.1 741.5 824.5 742.0 826.0 742.5 824.6 743.0 824.5 743.5 824.3 744.0 824.7 744.5 825.4 745.0 827.4 745.5 826.9 746.0 831.6 746.5 830.7 747.0 836.9 747.5 836.5 748.0 844.9 748.5 840.0 749.0 845.7 749.5 839.1 750.0 848.6 750.5 843.9 751.0 854.1 751.5 845.1 752.0 854.7 752.5 845.6 753.0 854.3 753.5 846.6 754.0 854.0 754.5 843.7 755.0 858.3 755.5 849.1 756.0 858.0 756.5 850.0 757.0 856.0 757.5 851.0 758.0 858.6 758.5 847.4 759.0 859.6 759.5 847.4 760.0 857.7 760.5 851.2 761.0 855.4 761.5 849.7 762.0 861.3 762.5 849.8 763.0 859.4 763.5 847.0 764.0 861.1 764.5 848.2 765.0 859.5 765.5 851.5 766.0 863.7 766.5 850.4 767.0 860.5 767.5 851.7 768.0 862.0 768.5 852.2 769.0 861.2 769.5 847.8 770.0 857.3 770.5 848.0 771.0 860.5 771.5 849.7 772.0 858.1 772.5 851.5 773.0 858.1 773.5 850.9 774.0 860.7 774.5 849.2 775.0 861.2 775.5 851.6 776.0 858.9 776.5 849.1 777.0 862.9 777.5 852.5 778.0 859.5 778.5 852.2 779.0 866.8 779.5 853.8 780.0 862.6 780.5 849.2 781.0 859.1 781.5 849.8 782.0 859.4 782.5 850.1 783.0 859.8 783.5 848.4 784.0 860.0 784.5 849.1 785.0 860.8 785.5 851.8 786.0 863.2 786.5 852.9 787.0 862.9 787.5 848.1 788.0 862.5 788.5 850.4 789.0 861.1 789.5 848.4 790.0 859.9 790.5 849.0 791.0 862.0 791.5 845.3 792.0 859.9 792.5 850.0 793.0 857.7 793.5 853.5 794.0 857.7 794.5 849.3 795.0 859.1 795.5 848.1 796.0 857.2 796.5 852.5 797.0 861.7 797.5 850.8 798.0 857.8 798.5 848.4 799.0 857.7 799.5 847.1 800.0 857.8 800.5 847.6 801.0 858.8 801.5 847.0 802.0 857.5 802.5 846.9 803.0 857.4 803.5 849.6 804.0 859.2 804.5 848.8 805.0 859.2 805.5 847.6 806.0 856.4 806.5 851.5 807.0 858.9 807.5 847.6 808.0 857.6 808.5 848.0 809.0 859.5 809.5 848.9 810.0 859.1 810.5 849.4 811.0 857.6 811.5 844.5 812.0 854.1 812.5 842.3 813.0 854.7 813.5 849.6 814.0 855.6 814.5 845.8 815.0 854.8 815.5 844.4 816.0 853.4 816.5 848.9 817.0 855.8 817.5 848.6 818.0 856.0 818.5 851.2 819.0 855.9 819.5 850.2 820.0 859.3 820.5 850.1 821.0 860.1 821.5 850.2 822.0 858.3 822.5 852.4 823.0 858.2 823.5 848.3 824.0 860.0 824.5 852.3 825.0 858.9 825.5 849.2 826.0 862.3 826.5 850.6 827.0 863.2 827.5 853.7 828.0 863.1 828.5 855.1 829.0 863.0 829.5 853.9 830.0 863.3 830.5 854.8 831.0 861.7 831.5 852.3 832.0 865.7 832.5 854.6 833.0 861.1 833.5 856.2 834.0 867.5 834.5 851.6 835.0 860.7 835.5 855.3 836.0 861.8 836.5 851.7 837.0 861.8 837.5 857.4 838.0 866.0 838.5 851.7 839.0 866.1 839.5 857.4 840.0 863.9 840.5 854.9 841.0 867.1 841.5 853.5 842.0 861.8 842.5 855.4 843.0 866.5 843.5 854.9 844.0 865.8 844.5 852.3 845.0 867.9 845.5 853.2 846.0 865.3 846.5 856.6 847.0 862.8 847.5 857.5 848.0 865.9 848.5 853.7 849.0 867.3 849.5 849.2 850.0 863.7 850.5 856.6 851.0 863.2 851.5 855.3 852.0 868.0 852.5 854.0 853.0 864.8 853.5 857.8 854.0 867.4 854.5 853.1 855.0 866.9 855.5 857.0 856.0 864.5 856.5 855.2 857.0 867.9 857.5 857.3 858.0 864.8 858.5 858.5 859.0 862.1 859.5 857.4 860.0 867.2 860.5 854.6 861.0 865.1 861.5 856.3 862.0 863.7 862.5 854.0 863.0 865.1 863.5 858.4 864.0 865.9 864.5 852.4 865.0 862.3 865.5 852.3 866.0 862.4 866.5 856.6 867.0 867.9 867.5 852.3 868.0 862.8 868.5 853.8 869.0 865.4 869.5 855.7 870.0 866.3 870.5 854.1 871.0 862.6 871.5 854.9 872.0 865.6 872.5 853.9 873.0 864.4 873.5 853.0 874.0 861.6 874.5 857.3 875.0 861.8 875.5 853.5 876.0 863.3 876.5 852.0 877.0 866.5 877.5 856.4 878.0 862.6 878.5 854.4 879.0 863.5 879.5 851.2 880.0 863.7 880.5 854.8 881.0 864.0 881.5 854.6 882.0 863.2 882.5 855.9 883.0 863.2 883.5 853.4 884.0 863.6 884.5 852.8 885.0 863.0 885.5 851.6 886.0 860.2 886.5 851.5 887.0 863.2 887.5 851.9 888.0 861.8 888.5 855.6 889.0 865.1 889.5 850.9 890.0 865.4 890.5 853.3 891.0 864.8 891.5 850.7 892.0 862.8 892.5 850.5 893.0 864.5 893.5 855.6 894.0 860.2 894.5 853.7 895.0 862.8 895.5 852.3 896.0 863.1 896.5 850.9 897.0 864.7 897.5 855.9 898.0 861.8 898.5 851.0 899.0 864.6 899.5 856.6 900.0 863.9 900.5 856.0 901.0 863.2 901.5 850.7 902.0 860.6 902.5 851.8 903.0 863.3 903.5 851.0 904.0 865.8 904.5 856.8 905.0 864.5 905.5 851.9 906.0 862.3 906.5 853.0 907.0 862.3 907.5 856.2 908.0 862.8 908.5 855.8 909.0 866.9 909.5 856.2 910.0 863.6 910.5 854.7 911.0 865.4 911.5 851.7 912.0 864.9 912.5 852.5 913.0 861.9 913.5 853.8 914.0 862.2 914.5 852.5 915.0 864.9 915.5 857.1 916.0 866.6 916.5 854.7 917.0 864.3 917.5 857.5 918.0 870.6 918.5 854.8 919.0 866.7 919.5 857.5 920.0 865.5 920.5 855.6 921.0 864.6 921.5 854.0 922.0 866.4 922.5 852.1 923.0 862.2 923.5 852.5 924.0 861.9 924.5 857.9 925.0 863.0 925.5 856.1 926.0 866.0 926.5 851.8 927.0 863.5 927.5 852.9 928.0 866.9 928.5 853.8 929.0 865.1 929.5 852.3 930.0 862.8 930.5 851.5 931.0 862.0 931.5 857.4 932.0 866.1 932.5 856.6 933.0 862.9 933.5 854.4 934.0 861.5 934.5 854.9 935.0 863.0 935.5 857.0 936.0 864.5 936.5 854.6 937.0 861.6 937.5 852.4 938.0 863.1 938.5 857.2 939.0 866.0 939.5 854.7 940.0 861.0 940.5 855.4 941.0 861.9 941.5 856.8 942.0 862.3 942.5 856.0 943.0 861.5 943.5 852.7 944.0 861.1 944.5 856.7 945.0 861.1 945.5 854.9 946.0 860.9 946.5 850.2 947.0 865.3 947.5 851.3 948.0 862.6 948.5 851.5 949.0 864.5 949.5 852.4 950.0 867.8 950.5 853.9 951.0 864.0 951.5 852.8 952.0 863.8 952.5 851.3 953.0 859.5 953.5 850.6 954.0 859.1 954.5 853.0 955.0 862.5 955.5 850.4 956.0 859.0 956.5 851.2 957.0 860.5 957.5 854.8 958.0 860.0 958.5 850.6 959.0 857.8 959.5 848.6 960.0 856.8 960.5 851.4 961.0 857.4 961.5 851.3 962.0 859.7 962.5 844.4 963.0 857.9 963.5 847.3 964.0 855.5 964.5 843.7 965.0 846.8 965.5 833.6 966.0 832.8 966.5 816.3 967.0 770.6 967.5 739.8 968.0 770.6 968.5 815.4 969.0 833.3 969.5 834.0 970.0 845.1 970.5 844.0 971.0 849.6 971.5 845.5 972.0 853.7 972.5 848.2 973.0 860.0 973.5 846.8 974.0 859.8 974.5 851.3 975.0 860.7 975.5 848.7 976.0 859.4 976.5 851.7 977.0 857.6 977.5 850.7 978.0 858.1 978.5 847.9 979.0 859.4 979.5 849.3 980.0 862.1 980.5 849.7 981.0 857.7 981.5 851.6 982.0 862.4 982.5 853.4 983.0 858.2 983.5 849.9 984.0 862.1 984.5 848.7 985.0 861.4 985.5 849.5 986.0 859.2 986.5 853.5 987.0 860.9 987.5 853.4 988.0 861.9 988.5 853.1 989.0 857.2 989.5 847.8 990.0 858.1 990.5 850.4 991.0 857.5 991.5 847.9 992.0 857.2 992.5 849.8 993.0 862.4 993.5 852.3 994.0 857.3 994.5 853.9 995.0 857.6 995.5 849.5 996.0 860.6 996.5 848.7 997.0 861.3 997.5 850.6 998.0 858.7 998.5 853.0 999.0 863.6 999.5 848.5 1000.0 860.3 1000.5 849.5 1001.0 865.1"/>
</g>
<g transform="translate(675.00 271.90)"><path d="M-0.35 -0.6 L-1.85 -5.10 A1.95 1.95 0 1 1 1.85 -5.10 L0.35 -0.6 Z" transform="rotate(0)" fill="#000"/><path d="M-0.35 -0.6 L-1.85 -5.10 A1.95 1.95 0 1 1 1.85 -5.10 L0.35 -0.6 Z" transform="rotate(60)" fill="#000"/><path d="M-0.35 -0.6 L-1.85 -5.10 A1.95 1.95 0 1 1 1.85 -5.10 L0.35 -0.6 Z" transform="rotate(120)" fill="#000"/><path d="M-0.35 -0.6 L-1.85 -5.10 A1.95 1.95 0 1 1 1.85 -5.10 L0.35 -0.6 Z" transform="rotate(180)" fill="#000"/><path d="M-0.35 -0.6 L-1.85 -5.10 A1.95 1.95 0 1 1 1.85 -5.10 L0.35 -0.6 Z" transform="rotate(240)" fill="#000"/><path d="M-0.35 -0.6 L-1.85 -5.10 A1.95 1.95 0 1 1 1.85 -5.10 L0.35 -0.6 Z" transform="rotate(300)" fill="#000"/><circle r="1.0" fill="#000"/></g>
<path d="M677.5 296.6L671.5 321.0M684.3 296.6L678.4 321.0M669.4 305.1H686.6M669.4 312.7H686.6" stroke="#000" stroke-width="1.9" fill="none"/>
<g transform="translate(269.40 132.60)"><path d="M-0.35 -0.6 L-1.85 -5.10 A1.95 1.95 0 1 1 1.85 -5.10 L0.35 -0.6 Z" transform="rotate(0)" fill="#000"/><path d="M-0.35 -0.6 L-1.85 -5.10 A1.95 1.95 0 1 1 1.85 -5.10 L0.35 -0.6 Z" transform="rotate(60)" fill="#000"/><path d="M-0.35 -0.6 L-1.85 -5.10 A1.95 1.95 0 1 1 1.85 -5.10 L0.35 -0.6 Z" transform="rotate(120)" fill="#000"/><path d="M-0.35 -0.6 L-1.85 -5.10 A1.95 1.95 0 1 1 1.85 -5.10 L0.35 -0.6 Z" transform="rotate(180)" fill="#000"/><path d="M-0.35 -0.6 L-1.85 -5.10 A1.95 1.95 0 1 1 1.85 -5.10 L0.35 -0.6 Z" transform="rotate(240)" fill="#000"/><path d="M-0.35 -0.6 L-1.85 -5.10 A1.95 1.95 0 1 1 1.85 -5.10 L0.35 -0.6 Z" transform="rotate(300)" fill="#000"/><circle r="1.0" fill="#000"/></g>
<path d="M268.4 156.8L262.4 181.2M275.2 156.8L269.3 181.2M260.3 165.3H277.5M260.3 172.9H277.5" stroke="#000" stroke-width="1.9" fill="none"/>
<path d="M500.8 284.1L494.8 308.5M507.6 284.1L501.7 308.5M492.7 292.6H509.9M492.7 300.2H509.9" stroke="#000" stroke-width="1.9" fill="none"/>
<g transform="translate(514.00 355.00)"><path d="M-0.35 -0.6 L-1.85 -5.10 A1.95 1.95 0 1 1 1.85 -5.10 L0.35 -0.6 Z" transform="rotate(0)" fill="#000"/><path d="M-0.35 -0.6 L-1.85 -5.10 A1.95 1.95 0 1 1 1.85 -5.10 L0.35 -0.6 Z" transform="rotate(60)" fill="#000"/><path d="M-0.35 -0.6 L-1.85 -5.10 A1.95 1.95 0 1 1 1.85 -5.10 L0.35 -0.6 Z" transform="rotate(120)" fill="#000"/><path d="M-0.35 -0.6 L-1.85 -5.10 A1.95 1.95 0 1 1 1.85 -5.10 L0.35 -0.6 Z" transform="rotate(180)" fill="#000"/><path d="M-0.35 -0.6 L-1.85 -5.10 A1.95 1.95 0 1 1 1.85 -5.10 L0.35 -0.6 Z" transform="rotate(240)" fill="#000"/><path d="M-0.35 -0.6 L-1.85 -5.10 A1.95 1.95 0 1 1 1.85 -5.10 L0.35 -0.6 Z" transform="rotate(300)" fill="#000"/><circle r="1.0" fill="#000"/></g>
<path d="M531.4 293.5L525.4 317.9M538.2 293.5L532.3 317.9M523.3 302.0H540.5M523.3 309.6H540.5" stroke="#000" stroke-width="1.9" fill="none"/>
<g transform="translate(557.40 378.50)"><path d="M-0.35 -0.6 L-1.85 -5.10 A1.95 1.95 0 1 1 1.85 -5.10 L0.35 -0.6 Z" transform="rotate(0)" fill="#000"/><path d="M-0.35 -0.6 L-1.85 -5.10 A1.95 1.95 0 1 1 1.85 -5.10 L0.35 -0.6 Z" transform="rotate(60)" fill="#000"/><path d="M-0.35 -0.6 L-1.85 -5.10 A1.95 1.95 0 1 1 1.85 -5.10 L0.35 -0.6 Z" transform="rotate(120)" fill="#000"/><path d="M-0.35 -0.6 L-1.85 -5.10 A1.95 1.95 0 1 1 1.85 -5.10 L0.35 -0.6 Z" transform="rotate(180)" fill="#000"/><path d="M-0.35 -0.6 L-1.85 -5.10 A1.95 1.95 0 1 1 1.85 -5.10 L0.35 -0.6 Z" transform="rotate(240)" fill="#000"/><path d="M-0.35 -0.6 L-1.85 -5.10 A1.95 1.95 0 1 1 1.85 -5.10 L0.35 -0.6 Z" transform="rotate(300)" fill="#000"/><circle r="1.0" fill="#000"/></g>
<path d="M617.2 386.5L611.2 410.9M624.0 386.5L618.1 410.9M609.1 395.0H626.3M609.1 402.6H626.3" stroke="#000" stroke-width="1.9" fill="none"/>
<g transform="translate(699.00 416.40)"><path d="M-0.35 -0.6 L-1.85 -5.10 A1.95 1.95 0 1 1 1.85 -5.10 L0.35 -0.6 Z" transform="rotate(0)" fill="#000"/><path d="M-0.35 -0.6 L-1.85 -5.10 A1.95 1.95 0 1 1 1.85 -5.10 L0.35 -0.6 Z" transform="rotate(60)" fill="#000"/><path d="M-0.35 -0.6 L-1.85 -5.10 A1.95 1.95 0 1 1 1.85 -5.10 L0.35 -0.6 Z" transform="rotate(120)" fill="#000"/><path d="M-0.35 -0.6 L-1.85 -5.10 A1.95 1.95 0 1 1 1.85 -5.10 L0.35 -0.6 Z" transform="rotate(180)" fill="#000"/><path d="M-0.35 -0.6 L-1.85 -5.10 A1.95 1.95 0 1 1 1.85 -5.10 L0.35 -0.6 Z" transform="rotate(240)" fill="#000"/><path d="M-0.35 -0.6 L-1.85 -5.10 A1.95 1.95 0 1 1 1.85 -5.10 L0.35 -0.6 Z" transform="rotate(300)" fill="#000"/><circle r="1.0" fill="#000"/></g>
<path d="M745.3 370.3L739.3 394.7M752.1 370.3L746.2 394.7M737.2 378.8H754.4M737.2 386.4H754.4" stroke="#000" stroke-width="1.9" fill="none"/>
<g transform="translate(787.70 417.20)"><path d="M-0.35 -0.6 L-1.85 -5.10 A1.95 1.95 0 1 1 1.85 -5.10 L0.35 -0.6 Z" transform="rotate(0)" fill="#000"/><path d="M-0.35 -0.6 L-1.85 -5.10 A1.95 1.95 0 1 1 1.85 -5.10 L0.35 -0.6 Z" transform="rotate(60)" fill="#000"/><path d="M-0.35 -0.6 L-1.85 -5.10 A1.95 1.95 0 1 1 1.85 -5.10 L0.35 -0.6 Z" transform="rotate(120)" fill="#000"/><path d="M-0.35 -0.6 L-1.85 -5.10 A1.95 1.95 0 1 1 1.85 -5.10 L0.35 -0.6 Z" transform="rotate(180)" fill="#000"/><path d="M-0.35 -0.6 L-1.85 -5.10 A1.95 1.95 0 1 1 1.85 -5.10 L0.35 -0.6 Z" transform="rotate(240)" fill="#000"/><path d="M-0.35 -0.6 L-1.85 -5.10 A1.95 1.95 0 1 1 1.85 -5.10 L0.35 -0.6 Z" transform="rotate(300)" fill="#000"/><circle r="1.0" fill="#000"/></g>
<path d="M904.3 405.8L898.3 430.2M911.1 405.8L905.2 430.2M896.2 414.3H913.4M896.2 421.9H913.4" stroke="#000" stroke-width="1.9" fill="none"/>
<g transform="translate(967.40 225.40)"><path d="M-0.35 -0.6 L-1.85 -5.10 A1.95 1.95 0 1 1 1.85 -5.10 L0.35 -0.6 Z" transform="rotate(0)" fill="#000"/><path d="M-0.35 -0.6 L-1.85 -5.10 A1.95 1.95 0 1 1 1.85 -5.10 L0.35 -0.6 Z" transform="rotate(60)" fill="#000"/><path d="M-0.35 -0.6 L-1.85 -5.10 A1.95 1.95 0 1 1 1.85 -5.10 L0.35 -0.6 Z" transform="rotate(120)" fill="#000"/><path d="M-0.35 -0.6 L-1.85 -5.10 A1.95 1.95 0 1 1 1.85 -5.10 L0.35 -0.6 Z" transform="rotate(180)" fill="#000"/><path d="M-0.35 -0.6 L-1.85 -5.10 A1.95 1.95 0 1 1 1.85 -5.10 L0.35 -0.6 Z" transform="rotate(240)" fill="#000"/><path d="M-0.35 -0.6 L-1.85 -5.10 A1.95 1.95 0 1 1 1.85 -5.10 L0.35 -0.6 Z" transform="rotate(300)" fill="#000"/><circle r="1.0" fill="#000"/></g>
<path d="M966.3 248.8L960.3 273.2M973.1 248.8L967.2 273.2M958.2 257.3H975.4M958.2 264.9H975.4" stroke="#000" stroke-width="1.9" fill="none"/>
<path d="M269.0 591.5L263.0 615.9M275.8 591.5L269.9 615.9M260.9 600.0H278.1M260.9 607.6H278.1" stroke="#000" stroke-width="1.9" fill="none"/>
<path d="M445.2 787.8L452.1 799.8L445.2 811.8L438.4 799.8Z" stroke="#000" stroke-width="2.0" fill="none" stroke-linejoin="miter"/>
<path d="M499.1 713.5L493.1 737.9M505.9 713.5L500.0 737.9M491.0 722.0H508.2M491.0 729.6H508.2" stroke="#000" stroke-width="1.9" fill="none"/>
<path d="M531.4 724.1L525.4 748.5M538.2 724.1L532.3 748.5M523.3 732.6H540.5M523.3 740.2H540.5" stroke="#000" stroke-width="1.9" fill="none"/>
<path d="M618.5 799.8L612.5 824.2M625.3 799.8L619.4 824.2M610.4 808.3H627.6M610.4 815.9H627.6" stroke="#000" stroke-width="1.9" fill="none"/>
<path d="M672.4 727.5L666.4 751.9M679.2 727.5L673.3 751.9M664.3 736.0H681.5M664.3 743.6H681.5" stroke="#000" stroke-width="1.9" fill="none"/>
<path d="M743.9 788.3L737.9 812.7M750.7 788.3L744.8 812.7M735.8 796.8H753.0M735.8 804.4H753.0" stroke="#000" stroke-width="1.9" fill="none"/>
<path d="M815.6 806.8L822.5 818.8L815.6 830.8L808.8 818.8Z" stroke="#000" stroke-width="2.0" fill="none" stroke-linejoin="miter"/>
<path d="M904.1 806.5L898.1 830.9M910.9 806.5L905.0 830.9M896.0 815.0H913.2M896.0 822.6H913.2" stroke="#000" stroke-width="1.9" fill="none"/>
<path d="M965.3 694.6L959.3 719.0M972.1 694.6L966.2 719.0M957.2 703.1H974.4M957.2 710.7H974.4" stroke="#000" stroke-width="1.9" fill="none"/>
<rect x="621.4" y="98.6" width="334.2" height="108.2" fill="none" stroke="#000" stroke-width="2.9" transform="translate(0 0.0)"/><g transform="translate(0 0.0)"><path d="M637 162.5 L629.5 178.3 L637 194" stroke="#000" stroke-width="1.9" fill="none"/><path d="M774 162.5 L781.5 178.3 L774 194" stroke="#000" stroke-width="1.9" fill="none"/><path d="M796.5 172 Q801 167.5 805.5 170.5 T814.5 169.5" stroke="#000" stroke-width="1.9" fill="none"/><path d="M796.5 179.5 H815 M796.5 186.5 H815" stroke="#000" stroke-width="1.9" fill="none"/></g>
<rect x="621.4" y="98.6" width="334.2" height="108.2" fill="none" stroke="#000" stroke-width="2.9" transform="translate(0 433.2)"/><g transform="translate(0 433.2)"><path d="M637 162.5 L629.5 178.3 L637 194" stroke="#000" stroke-width="1.9" fill="none"/><path d="M774 162.5 L781.5 178.3 L774 194" stroke="#000" stroke-width="1.9" fill="none"/><path d="M796.5 172 Q801 167.5 805.5 170.5 T814.5 169.5" stroke="#000" stroke-width="1.9" fill="none"/><path d="M796.5 179.5 H815 M796.5 186.5 H815" stroke="#000" stroke-width="1.9" fill="none"/></g>
<path d="M237.4 2.3L231.6 26.8M244.1 2.3L238.3 26.8M229.6 10.9H246.3M229.6 18.5H246.3" stroke="#000" stroke-width="1.9" fill="none"/>
<path d="M257.4 13.4H276.5M257.4 20.6H276.5" stroke="#000" stroke-width="2.0"/>
<g transform="translate(514.60 15.20)"><path d="M-0.35 -0.6 L-1.85 -4.70 A1.95 1.95 0 1 1 1.85 -4.70 L0.35 -0.6 Z" transform="rotate(0)" fill="#000"/><path d="M-0.35 -0.6 L-1.85 -4.70 A1.95 1.95 0 1 1 1.85 -4.70 L0.35 -0.6 Z" transform="rotate(60)" fill="#000"/><path d="M-0.35 -0.6 L-1.85 -4.70 A1.95 1.95 0 1 1 1.85 -4.70 L0.35 -0.6 Z" transform="rotate(120)" fill="#000"/><path d="M-0.35 -0.6 L-1.85 -4.70 A1.95 1.95 0 1 1 1.85 -4.70 L0.35 -0.6 Z" transform="rotate(180)" fill="#000"/><path d="M-0.35 -0.6 L-1.85 -4.70 A1.95 1.95 0 1 1 1.85 -4.70 L0.35 -0.6 Z" transform="rotate(240)" fill="#000"/><path d="M-0.35 -0.6 L-1.85 -4.70 A1.95 1.95 0 1 1 1.85 -4.70 L0.35 -0.6 Z" transform="rotate(300)" fill="#000"/><circle r="1.0" fill="#000"/></g>
<path d="M533.9 13.6H552.6M533.9 20.8H552.6" stroke="#000" stroke-width="2.0"/>
<path d="M790.5 2.6L797.8 13.8L790.5 24.9L783.2 13.8Z" stroke="#000" stroke-width="2.0" fill="none" stroke-linejoin="miter"/>
<path d="M809.4 13.6H828.7M809.4 21H828.7" stroke="#000" stroke-width="2.0"/>
<path d="M608 1108.9H620.1V1113.5H608Z M635.1 1090.4H640.3V1124.7H635.1V1100.4H627.1V1096.8C631 1096.5 634.5 1094.5 635.1 1090.4Z" fill="#000"/>
<text transform="matrix(0.9683 0 0 0.9884 154.93 153.77)" style="font-family:'Liberation Sans',sans-serif;font-size:74px;stroke:#000;stroke-width:0.6px" fill="#000">(a)</text>
<text transform="matrix(0.9683 0 0 0.9797 154.93 586.90)" style="font-family:'Liberation Sans',sans-serif;font-size:74px;stroke:#000;stroke-width:0.6px" fill="#000">(b)</text>
<text transform="matrix(0.9907 0 0 0.9887 243.03 1031.31)" style="font-family:'Liberation Sans',sans-serif;font-size:74px;stroke:#000;stroke-width:0.6px" fill="#000">2.0</text>
<text transform="matrix(0.9959 0 0 0.9887 459.11 1031.31)" style="font-family:'Liberation Sans',sans-serif;font-size:74px;stroke:#000;stroke-width:0.6px" fill="#000">3.0</text>
<text transform="matrix(0.9798 0 0 0.9887 678.02 1031.31)" style="font-family:'Liberation Sans',sans-serif;font-size:74px;stroke:#000;stroke-width:0.6px" fill="#000">4.0</text>
<text transform="matrix(0.9866 0 0 0.9887 893.44 1031.31)" style="font-family:'Liberation Sans',sans-serif;font-size:74px;stroke:#000;stroke-width:0.6px" fill="#000">5.0</text>
<text transform="matrix(1.0176 0 0 0.8493 456.55 1145.26)" style="font-family:'Liberation Sans',sans-serif;font-size:74px;stroke:#000;stroke-width:0.6px" fill="#000">Q</text>
<text transform="matrix(0.8000 0 0 0.9907 535.20 1154.60)" style="font-family:'Liberation Sans',sans-serif;font-size:74px;stroke:#000;stroke-width:0.6px" fill="#000">(</text>
<text transform="matrix(0.9367 0 0 1.0600 559.00 1154.60)" style="font-family:'Liberation Sans',sans-serif;font-size:74px;stroke:#000;stroke-width:0.6px" fill="#000">Å</text>
<text transform="matrix(0.8600 0 0 0.9907 652.00 1154.60)" style="font-family:'Liberation Sans',sans-serif;font-size:74px;stroke:#000;stroke-width:0.6px" fill="#000">)</text>
<text transform="matrix(0 -0.9770 0.9770 0 52.70 723.86)" style="font-family:'Liberation Sans',sans-serif;font-size:74px;stroke:#000;stroke-width:0.6px" fill="#000">Intensity (a. u.)</text>
<text transform="matrix(1.0204 0 0 1.0204 286.06 26.30)" style="font-family:'Liberation Sans',sans-serif;font-size:36px;stroke:#000;stroke-width:0.3px" fill="#000">Graphite-2H;</text>
<text transform="matrix(1.0279 0 0 1.0279 561.24 26.30)" style="font-family:'Liberation Sans',sans-serif;font-size:36px;stroke:#000;stroke-width:0.3px" fill="#000">Graphite-3R;</text>
<text transform="matrix(1.0196 0 0 1.0196 837.64 26.30)" style="font-family:'Liberation Sans',sans-serif;font-size:36px;stroke:#000;stroke-width:0.3px" fill="#000">LiF</text>
<text transform="matrix(1.0291 0 0 1.0291 682.67 138.50)" style="font-family:'Liberation Sans',sans-serif;font-size:35px;font-weight:bold" fill="#807000">As-prepared</text>
<text transform="matrix(1.0407 0 0 1.0407 671.92 570.00)" style="font-family:'Liberation Sans',sans-serif;font-size:35px;font-weight:bold" fill="#5c0070">Fast-Charged</text>
<text transform="matrix(1.0258 0 0 1.0258 825.47 187.60)" style="font-family:'Liberation Sans',sans-serif;font-size:35px;stroke:#000;stroke-width:0.3px" fill="#000">3.356 Å</text>
<text transform="matrix(1.0258 0 0 1.0258 825.47 620.80)" style="font-family:'Liberation Sans',sans-serif;font-size:35px;stroke:#000;stroke-width:0.3px" fill="#000">3.356 Å</text>
<text transform="matrix(0.9603 0 0 0.9603 658.88 197.40)" style="font-family:'Liberation Sans',sans-serif;font-size:25px;stroke:#000;stroke-width:0.2px" fill="#000">interplanar</text>
<text transform="matrix(0.9603 0 0 0.9603 658.88 630.60)" style="font-family:'Liberation Sans',sans-serif;font-size:25px;stroke:#000;stroke-width:0.2px" fill="#000">interplanar</text>
<text transform="matrix(1.0500 0 0 0.9704 640.95 187.80)" style="font-family:'Liberation Sans',sans-serif;font-size:36px;font-style:italic;stroke:#000;stroke-width:0.3px" fill="#000">d</text>
<text transform="matrix(1.0500 0 0 0.9704 640.95 621.00)" style="font-family:'Liberation Sans',sans-serif;font-size:36px;font-style:italic;stroke:#000;stroke-width:0.3px" fill="#000">d</text>

</svg>
</body></html>
